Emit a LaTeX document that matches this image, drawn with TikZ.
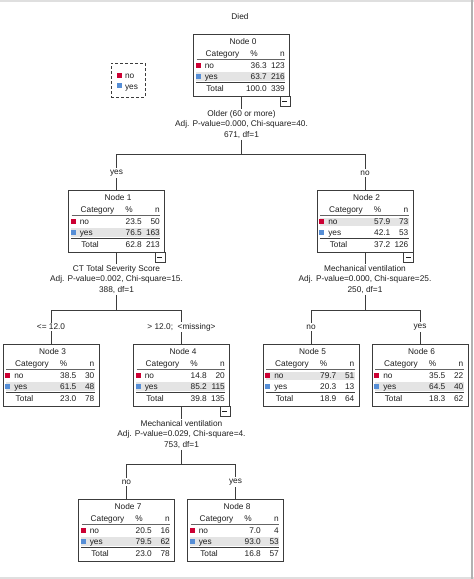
\documentclass[tikz,border=0pt]{standalone}
\usepackage{fontspec}
\setmainfont{Liberation Sans}
\usepackage{xcolor}
\usepackage{tikz}
\definecolor{CatRed}{RGB}{204, 0, 51}
\definecolor{CatBlue}{RGB}{86, 142, 214}
\definecolor{RowGray}{RGB}{228, 228, 228}
\definecolor{EdgeGray}{RGB}{60, 60, 60}
\definecolor{RuleGray}{RGB}{100, 100, 100}
\definecolor{InkGray}{RGB}{30, 30, 30}

% table inside a tree node: number, highlighted row (1 = no, 2 = yes), no %, no n, yes %, yes n, total %, total n
\newcommand{\treetab}[8]{%
  \begin{scope}[shift={(n#1.north west)}]
    \ifnum#2=1
      \fill[RowGray] (3,28) rectangle (92,36.5);
    \else
      \fill[RowGray] (3,38.5) rectangle (92,47);
    \fi
    \node[cell, anchor=base] at (50,11) {Node #1};
    \node[cell, anchor=base] at (29.5,22.5) {Category};
    \node[cell, anchor=base] at (61,22.5) {\%};
    \node[cell, anchor=base east] at (92,22.5) {n};
    \draw[RuleGray, line width=0.6pt] (3.5,25.5) -- (92,25.5);
    \fill[CatRed] (2.8,29.7) rectangle (7.8,34.7);
    \node[cell, anchor=base west] at (11.5,35) {no};
    \node[cell, anchor=base east] at (74,35) {#3};
    \node[cell, anchor=base east] at (92,35) {#4};
    \fill[CatBlue] (2.8,40.2) rectangle (7.8,45.2);
    \node[cell, anchor=base west] at (11.5,45.5) {yes};
    \node[cell, anchor=base east] at (74,45.5) {#5};
    \node[cell, anchor=base east] at (92,45.5) {#6};
    \draw[EdgeGray, line width=1.2pt] (3,49) -- (92,49);
    \node[cell, anchor=base west] at (13,58) {Total};
    \node[cell, anchor=base east] at (74,58) {#7};
    \node[cell, anchor=base east] at (92,58) {#8};
  \end{scope}}

% collapse box under a node that has children
\newcommand{\foldbox}[1]{%
  \begin{scope}[shift={(#1.south east)}]
    \draw[EdgeGray, line width=0.8pt, fill=white] (-10,0) rectangle (0,10);
    \draw[InkGray, line width=0.9pt] (-7.5,5) -- (-2.5,5);
  \end{scope}}

\begin{document}
\begin{tikzpicture}[x=1pt, y=-1pt,
    treebox/.style={draw=EdgeGray, line width=0.9pt, minimum width=96pt, minimum height=62pt, inner sep=0pt},
    cell/.style={font=\fontsize{8.3}{10}\selectfont, inner sep=0pt, text=InkGray},
    splitlbl/.style={font=\fontsize{8.3}{10}\selectfont, align=center, inner sep=1pt, text=InkGray},
    brlbl/.style={font=\fontsize{8.3}{10}\selectfont, fill=white, inner sep=1.5pt, text=InkGray},
    link/.style={draw=EdgeGray, line width=0.9pt}]
    \useasboundingbox (0,0) rectangle (474,579);
    % screenshot frame
    \fill[gray!25] (0,0) rectangle (474,2);
    \fill[gray!25] (0,577) rectangle (474,579);
    \fill[gray!60] (471,0) rectangle (473.3,579);

    \node[cell] (ttl) at (240,17) {Died};

    % legend
    \node[draw=EdgeGray, line width=0.9pt, dash pattern=on 3pt off 2pt,
          minimum width=34pt, minimum height=34pt, inner sep=0pt] (lg) at (128,80) {};
    \fill[CatRed] (117.3,72.5) rectangle (122.3,77.5);
    \node[cell, anchor=base west] (lgno) at (124.8,78) {no};
    \fill[CatBlue] (117.3,82.5) rectangle (122.3,87.5);
    \node[cell, anchor=base west] (lgyes) at (124.8,89) {yes};

    % tree nodes
    \node[treebox] (n0) at (241.5,65) {};
    \node[treebox] (n1) at (116.5,221) {};
    \node[treebox] (n2) at (365,221) {};
    \node[treebox] (n3) at (51,375) {};
    \node[treebox] (n4) at (181.5,375) {};
    \node[treebox] (n5) at (311,375) {};
    \node[treebox] (n6) at (420,375) {};
    \node[treebox] (n7) at (126.5,530) {};
    \node[treebox] (n8) at (235.5,530) {};

    \treetab{0}{2}{36.3}{123}{63.7}{216}{100.0}{339}
    \treetab{1}{2}{23.5}{50}{76.5}{163}{62.8}{213}
    \treetab{2}{1}{57.9}{73}{42.1}{53}{37.2}{126}
    \treetab{3}{2}{38.5}{30}{61.5}{48}{23.0}{78}
    \treetab{4}{2}{14.8}{20}{85.2}{115}{39.8}{135}
    \treetab{5}{1}{79.7}{51}{20.3}{13}{18.9}{64}
    \treetab{6}{2}{35.5}{22}{64.5}{40}{18.3}{62}
    \treetab{7}{2}{20.5}{16}{79.5}{62}{23.0}{78}
    \treetab{8}{2}{7.0}{4}{93.0}{53}{16.8}{57}

    % split rules
    \node[splitlbl] (s0) at (241.5,124.5) {Older (60 or more)\\Adj. P-value=0.000, Chi-square=40.\\[1.5pt]671, df=1};
    \node[splitlbl] (s1) at (116.5,279.5) {CT Total Severity Score\\Adj. P-value=0.002, Chi-square=15.\\[1.5pt]388, df=1};
    \node[splitlbl] (s2) at (365,279.5) {Mechanical ventilation\\Adj. P-value=0.000, Chi-square=25.\\[1.5pt]250, df=1};
    \node[splitlbl] (s4) at (181.5,434.5) {Mechanical ventilation\\Adj. P-value=0.029, Chi-square=4.\\[1.5pt]753, df=1};

    \coordinate (j0) at (241.5,154);
    \coordinate (j1) at (116.5,310);
    \coordinate (j2) at (365,310);
    \coordinate (j4) at (181.5,464);

    % connectors
    \draw[link] (n0.south) -- (s0.north);
    \draw[link] (s0.south) -- (j0);
    \draw[link] (j0) -| (n1.north);
    \draw[link] (j0) -| (n2.north);
    \draw[link] (n1.south) -- (s1.north);
    \draw[link] (s1.south) -- (j1);
    \draw[link] (j1) -| (n3.north);
    \draw[link] (j1) -| (n4.north);
    \draw[link] (n2.south) -- (s2.north);
    \draw[link] (s2.south) -- (j2);
    \draw[link] (j2) -| (n5.north);
    \draw[link] (j2) -| (n6.north);
    \draw[link] (n4.south) -- (s4.north);
    \draw[link] (s4.south) -- (j4);
    \draw[link] (j4) -| (n7.north);
    \draw[link] (j4) -| (n8.north);

    \foldbox{n0}
    \foldbox{n1}
    \foldbox{n2}
    \foldbox{n4}

    % branch labels
    \node[brlbl] (b1) at (116.5,173) {yes};
    \node[brlbl] (b2) at (365,173) {no};
    \node[brlbl] (b3) at (51,327) {<= 12.0};
    \node[brlbl] (b4) at (181.5,327) {> 12.0;\ \ <missing>};
    \node[brlbl] (b5) at (311,327) {no};
    \node[brlbl] (b6) at (420,327) {yes};
    \node[brlbl] (b7) at (126.5,482) {no};
    \node[brlbl] (b8) at (235.5,482) {yes};
\end{tikzpicture}
\end{document}
